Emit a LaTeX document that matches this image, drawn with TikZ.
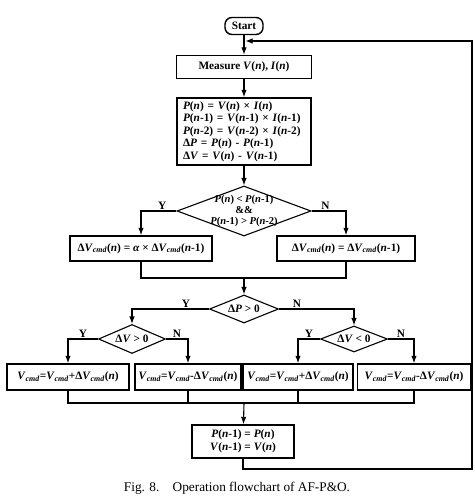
\documentclass[tikz,border=0pt]{standalone}
\usepackage{fontspec}
\setmainfont{Liberation Serif}
\usetikzlibrary{calc,arrows.meta,shapes.geometric}

% Text helpers
\newcommand{\ii}[1]{\textit{#1}}
\newcommand{\vcmd}{\textit{V}\textsubscript{\textit{cmd}}}

\begin{document}
\begin{tikzpicture}[>={Latex[length=7.5pt,width=5.5pt]},x=1pt,y=-1pt,
    box/.style={draw,line width=1.4pt,inner sep=2pt,align=center,
      font=\bfseries\fontsize{11.3}{12.8}\selectfont},
    decision/.style={draw,diamond,line width=1.1pt,inner sep=0pt},
    flow/.style={line width=1.1pt},
    yn/.style={font=\bfseries\fontsize{11.3}{12}\selectfont,inner sep=1pt}]
  \useasboundingbox (0,0) rectangle (474,502);
  %
  % Start and measurement
  \node[box,rounded corners=7pt,minimum width=38,minimum height=17,inner sep=1pt]
    (start) at (244,26) {Start};
  \node[box,minimum width=135,minimum height=23] (meas) at (244,67)
    {Measure \ii{V}(\ii{n}), \ii{I}(\ii{n})};
  \node[box,minimum width=134,minimum height=67,align=left,text width=122,
    font=\bfseries\fontsize{11.3}{12.6}\selectfont]
    (calc) at (244,131.5)
    {\ii{P}(\ii{n}) = \ii{V}(\ii{n}) × \ii{I}(\ii{n})\\
     \ii{P}(\ii{n}-1) = \ii{V}(\ii{n}-1) × \ii{I}(\ii{n}-1)\\
     \ii{P}(\ii{n}-2) = \ii{V}(\ii{n}-2) × \ii{I}(\ii{n}-2)\\
     Δ\ii{P} = \ii{P}(\ii{n}) - \ii{P}(\ii{n}-1)\\
     Δ\ii{V} = \ii{V}(\ii{n}) - \ii{V}(\ii{n}-1)};
  %
  % First decision
  \node[decision,minimum width=134,minimum height=50] (dec1) at (244,211) {};
  \node[align=center,inner sep=0pt,font=\bfseries\fontsize{10.5}{11}\selectfont]
    (dec1txt) at (dec1) {\ii{P}(\ii{n}) < \ii{P}(\ii{n}-1)\\ \&\&\\
    \ii{P}(\ii{n}-1) > \ii{P}(\ii{n}-2)};
  \node[box,minimum width=142,minimum height=25] (ya) at (141,248.5)
    {Δ\vcmd(\ii{n}) = \ii{α} × Δ\vcmd(\ii{n}-1)};
  \node[box,minimum width=138,minimum height=25] (na) at (346,248.5)
    {Δ\vcmd(\ii{n}) = Δ\vcmd(\ii{n}-1)};
  %
  % Second level decisions
  \coordinate (m1) at (244,278);
  \node[decision,minimum width=69,minimum height=28] (dec2) at (244,309) {};
  \node[yn] (dec2txt) at (dec2) {Δ\ii{P} > 0};
  \node[decision,minimum width=67,minimum height=29] (dec3) at (132,339) {};
  \node[yn] (dec3txt) at (dec3) {Δ\ii{V} > 0};
  \node[decision,minimum width=67,minimum height=26] (dec4) at (354,339) {};
  \node[yn] (dec4txt) at (dec4) {Δ\ii{V} < 0};
  %
  % Update boxes
  \node[box,minimum width=122,minimum height=26,inner sep=1pt] (up1) at (68,377)
    {\vcmd=\vcmd+Δ\vcmd(\ii{n})};
  \node[box,minimum width=106,minimum height=26,inner sep=1pt] (dn1) at (188,377)
    {\vcmd=\vcmd-Δ\vcmd(\ii{n})};
  \node[box,minimum width=110,minimum height=26,inner sep=1pt] (up2) at (298,377)
    {\vcmd=\vcmd+Δ\vcmd(\ii{n})};
  \node[box,minimum width=113,minimum height=26,inner sep=1pt] (dn2) at (414,377)
    {\vcmd=\vcmd-Δ\vcmd(\ii{n})};
  \coordinate (m2) at (244,403);
  \node[box,minimum width=102,minimum height=33,font=\bfseries\fontsize{11.3}{13}\selectfont]
    (store) at (243,441.5)
    {\ii{P}(\ii{n}-1) = \ii{P}(\ii{n})\\ \ii{V}(\ii{n}-1) = \ii{V}(\ii{n})};
  %
  % Loop back corners
  \coordinate (loopbr) at (472,469);
  \coordinate (looptr) at (472,41);
  \coordinate (join) at (245,41);
  %
  % Connectors
  \draw[flow,->] (start) -- (meas);
  \draw[flow,->] (meas) -- (calc);
  \draw[flow,->] (calc) -- (dec1);
  \draw[flow,->] (dec1.west) -| node[yn,pos=0.2,above] {Y} (ya.north);
  \draw[flow,->] (dec1.east) -| node[yn,pos=0.2,above] {N} (na.north);
  \draw[flow] (ya.south) -- (ya.south |- m1) -- (na.south |- m1) -- (na.south);
  \draw[flow,->] (m1) -- (dec2);
  \draw[flow,->] (dec2.west) -| node[yn,pos=0.15,above] {Y} (dec3.north);
  \draw[flow,->] (dec2.east) -| node[yn,pos=0.12,above] {N} (dec4.north);
  \draw[flow,->] (dec3.west) -| node[yn,pos=0.25,above] {Y} (up1.north);
  \draw[flow,->] (dec3.east) -| node[yn,pos=0.25,above] {N} (dn1.north);
  \draw[flow,->] (dec4.west) -| node[yn,pos=0.25,above] {Y} (up2.north);
  \draw[flow,->] (dec4.east) -| node[yn,pos=0.25,above] {N} (dn2.north);
  \draw[flow] (up1.south) -- (up1.south |- m2) -- (dn2.south |- m2) -- (dn2.south);
  \draw[flow] (dn1.south) -- (dn1.south |- m2);
  \draw[flow] (up2.south) -- (up2.south |- m2);
  \draw[flow,->] (m2) -- (store);
  \draw[flow,line width=1.5pt,->] (store.south) |- (loopbr) -- (looptr) -- (join);
  %
  % Caption
  \node[font=\fontsize{13.3}{14}\selectfont] (caption) at (237,488)
    {Fig. 8.\quad Operation flowchart of AF-P\&O.};
\end{tikzpicture}
\end{document}
